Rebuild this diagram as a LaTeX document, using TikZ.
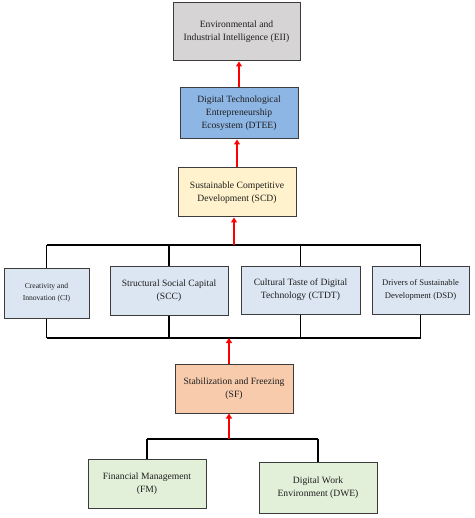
\documentclass[tikz,border=0pt]{standalone}
\usepackage{fontspec}
\setmainfont{Liberation Serif}
\usetikzlibrary{arrows.meta,calc}
\definecolor{bordc}{RGB}{60,60,60}
\definecolor{txtc}{RGB}{30,30,30}
\definecolor{eiic}{RGB}{214,212,212}
\definecolor{dteec}{RGB}{142,182,228}
\definecolor{scdc}{RGB}{255,242,204}
\definecolor{midc}{RGB}{220,230,242}
\definecolor{sfc}{RGB}{248,203,173}
\definecolor{grnc}{RGB}{226,240,217}
\tikzset{
  boxnode/.style={draw=bordc, line width=1pt, rectangle, align=center, text=txtc, inner sep=2pt,
    font=\fontsize{9.6}{12.8}\selectfont},
  busline/.style={draw=black, line width=1.5pt},
  redarrow/.style={draw=red, line width=2pt, -{Triangle[length=5pt,width=6pt]}}
}
\begin{document}
\begin{tikzpicture}[x=1pt,y=-1pt]
\useasboundingbox (0,0) rectangle (474,518);
\node[boxnode, fill=eiic, minimum width=127pt, minimum height=58pt] (EII) at (236.5,32) {Environmental and\\Industrial Intelligence (EII)};
\node[boxnode, fill=dteec, minimum width=118pt, minimum height=51pt] (DTEE) at (239,113.5) {Digital Technological\\Entrepreneurship\\Ecosystem (DTEE)};
\node[boxnode, fill=scdc, minimum width=118pt, minimum height=49pt] (SCD) at (237,192.5) {Sustainable Competitive\\Development (SCD)};
\node[boxnode, fill=midc, minimum width=85pt, minimum height=50pt, font=\fontsize{7.6}{11.7}\selectfont] (CI) at (46.5,293) {Creativity and\\Innovation (CI)};
\node[boxnode, fill=midc, minimum width=118pt, minimum height=49pt] (SCC) at (169,290.5) {Structural Social Capital\\(SCC)};
\node[boxnode, fill=midc, minimum width=119pt, minimum height=48pt] (CTDT) at (300.5,290) {Cultural Taste of Digital\\Technology (CTDT)};
\node[boxnode, fill=midc, minimum width=97pt, minimum height=48pt, font=\fontsize{8.6}{12.5}\selectfont] (DSD) at (420.5,290) {Drivers of Sustainable\\Development (DSD)};
\node[boxnode, fill=sfc, minimum width=118pt, minimum height=49pt] (SF) at (234,388.5) {Stabilization and Freezing\\(SF)};
\node[boxnode, fill=grnc, minimum width=118pt, minimum height=49pt] (FM) at (147,483.5) {Financial Management\\(FM)};
\node[boxnode, fill=grnc, minimum width=118pt, minimum height=51pt] (DWE) at (318,487.5) {Digital Work\\Environment (DWE)};
% bus coordinates
\coordinate (topbus) at (0,245);
\coordinate (botbus) at (0,338);
\coordinate (lowbus) at (0,439);
\coordinate (arrA) at (234,245);
\coordinate (arrB) at (229,338);
\coordinate (arrC) at (229,439);
% top bus
\draw[busline] (CI.north |- topbus) -- (DSD.north |- topbus);
\draw[busline] (CI.north) -- (CI.north |- topbus);
\draw[busline] (SCC.north) -- (SCC.north |- topbus);
\draw[busline] (CTDT.north) -- (CTDT.north |- topbus);
\draw[busline] (DSD.north) -- (DSD.north |- topbus);
% bottom bus
\draw[busline] (CI.south |- botbus) -- (DSD.south |- botbus);
\draw[busline] (CI.south) -- (CI.south |- botbus);
\draw[busline] (SCC.south) -- (SCC.south |- botbus);
\draw[busline] (CTDT.south) -- (CTDT.south |- botbus);
\draw[busline] (DSD.south) -- (DSD.south |- botbus);
% low bus
\draw[busline] (FM.north |- lowbus) -- (DWE.north |- lowbus);
\draw[busline] (FM.north) -- (FM.north |- lowbus);
\draw[busline] (DWE.north) -- (DWE.north |- lowbus);
% red arrows
\draw[redarrow] (DTEE.north) -- (DTEE.north |- EII.south);
\draw[redarrow] (SCD.north) -- (SCD.north |- DTEE.south);
\draw[redarrow] (arrA) -- (arrA |- SCD.south);
\draw[redarrow] (arrB |- SF.north) -- (arrB);
\draw[redarrow] (arrC) -- (arrC |- SF.south);
\end{tikzpicture}
\end{document}
